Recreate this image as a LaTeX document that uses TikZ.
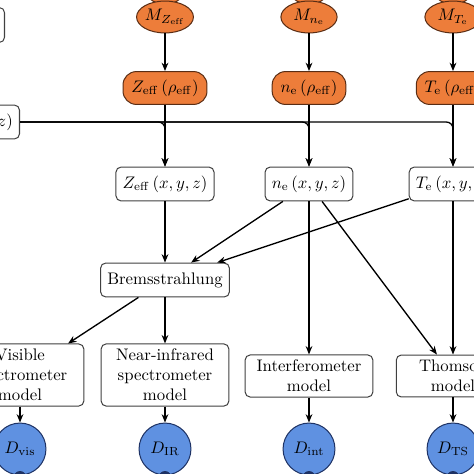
\documentclass[tikz,border=0pt]{standalone}
\usetikzlibrary{arrows.meta}
\usetikzlibrary{positioning}
\usetikzlibrary{shapes.geometric}
\definecolor{mfill}{RGB}{237,125,58}
\definecolor{mdraw}{RGB}{90,45,20}
\definecolor{dfill}{RGB}{95,145,225}
\definecolor{ddraw}{RGB}{30,50,100}
\tikzset{box/.style={draw=black!75,line width=0.6pt,rounded corners=3pt,fill=white,inner xsep=4pt,inner ysep=3pt,minimum height=0.71cm,align=center}}

\begin{document}
\begin{tikzpicture}[x=0.021cm,y=-0.021cm,>={Stealth[length=5pt,width=4pt]}]
\tikzset{pill/.style={draw=mdraw,line width=0.6pt,fill=mfill,rounded corners=8pt,minimum height=0.69cm,inner xsep=5pt}}
\tikzset{prior/.style={ellipse,draw=mdraw,line width=0.6pt,fill=mfill,minimum width=1.18cm,minimum height=0.67cm,inner sep=0pt}}
\tikzset{data/.style={circle,draw=ddraw,line width=0.6pt,fill=dfill,minimum size=1.09cm,inner sep=1pt}}
\tikzset{model/.style={box,text width=2.4cm}}
\tikzset{conn/.style={->,thick}}
\useasboundingbox (0,0) rectangle (474,474);
\clip (0,0) rectangle (474,474);

%\foreach for the parts cut by the frame
\foreach \x in {165,309,453}
  \filldraw[fill=mfill,draw=mdraw,line width=0.6pt] (\x,-6) ellipse [x radius=17,y radius=10];

\node[prior] (mz) at (165,17) {$M_{Z_{\mathrm{eff}}}$};
\node[prior] (mn) at (309,17) {$M_{n_{\mathrm{e}}}$};
\node[prior] (mt) at (453,17) {$M_{T_{\mathrm{e}}}$};

\node[pill] (zr) at (165,88) {$Z_{\mathrm{eff}}\,(\rho_{\mathrm{eff}})$};
\node[pill] (nr) at (309,88) {$n_{\mathrm{e}}\,(\rho_{\mathrm{eff}})$};
\node[pill] (tr) at (453,88) {$T_{\mathrm{e}}\,(\rho_{\mathrm{eff}})$};

\node[box,minimum width=2cm,minimum height=0.73cm,anchor=east] (geo) at (5,25) {};
\node[box,anchor=east] (rho) at (20,122) {$\rho_{\mathrm{eff}}\,(x,y,z)$};

\node[box] (zx) at (165,184) {$Z_{\mathrm{eff}}\,(x,y,z)$};
\node[box] (nx) at (309,184) {$n_{\mathrm{e}}\,(x,y,z)$};
\node[box] (tx) at (453,184) {$T_{\mathrm{e}}\,(x,y,z)$};

\node[box] (brems) at (165,280) {Bremsstrahlung};

\node[model] (vis) at (20,375) {Visible\\spectrometer\\model};
\node[model] (nir) at (165,375) {Near-infrared\\spectrometer\\model};
\node[model] (int) at (309,376) {Interferometer\\model};
\node[model,text width=2.1cm] (ts) at (453,376) {Thomson\\model};

\node[data] (dvis) at (20,449) {$D_{\mathrm{vis}}$};
\node[data] (dir) at (165,449) {$D_{\mathrm{IR}}$};
\node[data] (dint) at (309,449) {$D_{\mathrm{int}}$};
\node[data] (dts) at (453,449) {$D_{\mathrm{TS}}$};

\foreach \x in {20,165,309,453}
  \fill[ddraw] (\x,479) ellipse [x radius=7,y radius=8];

\draw[conn] (mz) -- (zr);
\draw[conn] (mn) -- (nr);
\draw[conn] (mt) -- (tr);

\draw[conn] (zr) -- (zx);
\draw[conn] (nr) -- (nx);
\draw[conn] (tr) -- (tx);

\draw[conn,rounded corners=4pt] (rho.east) -| (zx.north);
\draw[conn,rounded corners=4pt] (rho.east) -| (nx.north);
\draw[conn,rounded corners=4pt] (rho.east) -| (tx.north);

\draw[conn] (zx) -- (brems);
\draw[conn] (nx) -- (brems);
\draw[conn] (tx) -- (brems);
\draw[conn] (nx) -- (int);
\draw[conn] (nx) -- (ts);
\draw[conn] (tx) -- (ts);

\draw[conn] (brems) -- (vis);
\draw[conn] (brems) -- (nir);

\draw[conn] (vis) -- (dvis);
\draw[conn] (nir) -- (dir);
\draw[conn] (int) -- (dint);
\draw[conn] (ts) -- (dts);
\end{tikzpicture}
\end{document}
